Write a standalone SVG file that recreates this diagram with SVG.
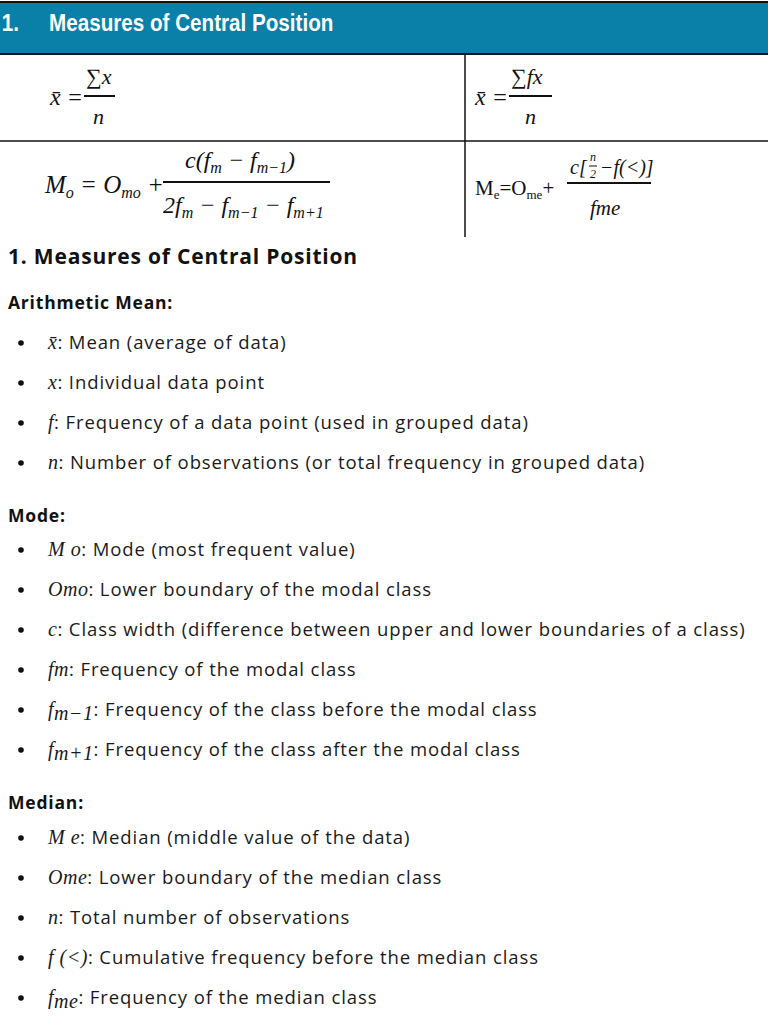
<svg xmlns="http://www.w3.org/2000/svg" width="768" height="1024" viewBox="0 0 768 1024">
<style>
.t{font-family:"Open Sans","Liberation Sans",sans-serif;font-size:18.5px;letter-spacing:0.9px;fill:#1a1a1a}
.m{font-family:"Liberation Serif",serif;font-style:italic;font-size:20px;letter-spacing:0.5px;fill:#1a1a1a}
.f{font-family:"Liberation Serif",serif;font-style:italic;fill:#111}
.h{font-family:"Open Sans","Liberation Sans",sans-serif;font-weight:bold;fill:#111}
.b{fill:#111}
</style>
<rect width="768" height="1024" fill="#fff"/>
<g id="header">
<rect x="0" y="2" width="768" height="52" fill="#0a7fa8"/>
<line x1="0" y1="2" x2="768" y2="2" stroke="#111" stroke-width="2"/>
<line x1="0" y1="54" x2="768" y2="54" stroke="#111" stroke-width="2"/>
<g transform="scale(0.86,1)" font-family="Liberation Sans,sans-serif" font-weight="bold" font-size="24" fill="#fff">
<text x="2" y="31">1.</text>
<text x="57" y="31">Measures of Central Position</text>
</g>
</g>
<g id="table" stroke="#111" stroke-width="1.5">
<line x1="0" y1="141" x2="768" y2="141"/>
<line x1="465" y1="54" x2="465" y2="237"/>
</g>
<g id="formulas">
<text class="f" x="50" y="105" font-size="24">x̄ =</text>
<text class="f" x="86" y="84" font-size="22">∑x</text>
<line x1="84" y1="96" x2="115" y2="96" stroke="#111" stroke-width="2"/>
<text class="f" x="93" y="124" font-size="22">n</text>
<text class="f" x="475" y="105" font-size="24">x̄ =</text>
<text class="f" x="511" y="84" font-size="22">∑fx</text>
<line x1="509" y1="96" x2="552" y2="96" stroke="#111" stroke-width="2"/>
<text class="f" x="525" y="124" font-size="22">n</text>
<text class="f" x="45" y="193" font-size="25">M<tspan font-size="16" dy="5">o</tspan><tspan dy="-5"> = O</tspan><tspan font-size="16" dy="5">mo</tspan><tspan dy="-5"> +</tspan></text>
<text class="f" x="185" y="168" font-size="24">c(f<tspan font-size="16" dy="5">m</tspan><tspan dy="-5"> − f</tspan><tspan font-size="16" dy="5">m−1</tspan><tspan dy="-5">)</tspan></text>
<line x1="163" y1="182" x2="330" y2="182" stroke="#111" stroke-width="2"/>
<text class="f" x="163" y="213" font-size="24">2f<tspan font-size="16" dy="5">m</tspan><tspan dy="-5"> − f</tspan><tspan font-size="16" dy="5">m−1</tspan><tspan dy="-5"> − f</tspan><tspan font-size="16" dy="5">m+1</tspan></text>
<text x="475" y="195" font-family="Liberation Serif,serif" font-size="21" fill="#111">M<tspan font-size="13" dy="4">e</tspan><tspan dy="-4">=O</tspan><tspan font-size="13" dy="4">me</tspan><tspan dy="-4">+</tspan></text>
<text class="f" x="570" y="174" font-size="20">c[</text>
<text class="f" x="590" y="161" font-size="12">n</text>
<line x1="589" y1="166" x2="597" y2="166" stroke="#111" stroke-width="1"/>
<text class="f" x="590" y="178" font-size="12">2</text>
<text class="f" x="600" y="174" font-size="20">−f(&lt;)]</text>
<line x1="567" y1="183" x2="651" y2="183" stroke="#111" stroke-width="2"/>
<text class="f" x="590" y="215" font-size="21">fme</text>
</g>
<g id="content">
<text class="h" x="8" y="264" font-size="21" letter-spacing="0.8">1. Measures of Central Position</text>
<text class="h" x="8" y="309" font-size="17.5" letter-spacing="0.8">Arithmetic Mean:</text>
<g class="b"><circle cx="21" cy="343" r="2.8"/><circle cx="21" cy="383" r="2.8"/><circle cx="21" cy="423" r="2.8"/><circle cx="21" cy="463" r="2.8"/></g>
<text class="t" x="48" y="349"><tspan class="m">x̄</tspan>: Mean (average of data)</text>
<text class="t" x="48" y="389"><tspan class="m">x</tspan>: Individual data point</text>
<text class="t" x="48" y="429"><tspan class="m">f</tspan>: Frequency of a data point (used in grouped data)</text>
<text class="t" x="48" y="469"><tspan class="m">n</tspan>: Number of observations (or total frequency in grouped data)</text>
<text class="h" x="8" y="522" font-size="17.5" letter-spacing="0.8">Mode:</text>
<g class="b"><circle cx="21" cy="550" r="2.8"/><circle cx="21" cy="590" r="2.8"/><circle cx="21" cy="630" r="2.8"/><circle cx="21" cy="670" r="2.8"/><circle cx="21" cy="710" r="2.8"/><circle cx="21" cy="750" r="2.8"/></g>
<text class="t" x="48" y="556"><tspan class="m">M o</tspan>: Mode (most frequent value)</text>
<text class="t" x="48" y="596"><tspan class="m">Omo</tspan>: Lower boundary of the modal class</text>
<text class="t" x="48" y="636"><tspan class="m">c</tspan>: Class width (difference between upper and lower boundaries of a class)</text>
<text class="t" x="48" y="676"><tspan class="m">fm</tspan>: Frequency of the modal class</text>
<text class="t" x="48" y="716"><tspan class="m">f</tspan><tspan class="m" font-size="14" dy="4">m−1</tspan><tspan dy="-4">: Frequency of the class before the modal class</tspan></text>
<text class="t" x="48" y="756"><tspan class="m">f</tspan><tspan class="m" font-size="14" dy="4">m+1</tspan><tspan dy="-4">: Frequency of the class after the modal class</tspan></text>
<text class="h" x="8" y="809" font-size="17.5" letter-spacing="0.8">Median:</text>
<g class="b"><circle cx="21" cy="838" r="2.8"/><circle cx="21" cy="878" r="2.8"/><circle cx="21" cy="918" r="2.8"/><circle cx="21" cy="958" r="2.8"/><circle cx="21" cy="998" r="2.8"/></g>
<text class="t" x="48" y="844"><tspan class="m">M e</tspan>: Median (middle value of the data)</text>
<text class="t" x="48" y="884"><tspan class="m">Ome</tspan>: Lower boundary of the median class</text>
<text class="t" x="48" y="924"><tspan class="m">n</tspan>: Total number of observations</text>
<text class="t" x="48" y="964"><tspan class="m">f (&lt;)</tspan>: Cumulative frequency before the median class</text>
<text class="t" x="48" y="1004"><tspan class="m">f</tspan><tspan class="m" font-size="14" dy="4">me</tspan><tspan dy="-4">: Frequency of the median class</tspan></text>
</g>
</svg>
